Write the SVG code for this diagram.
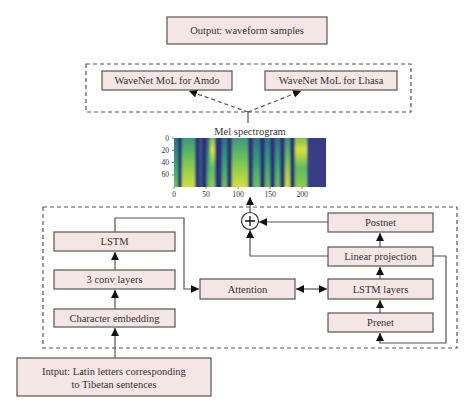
<svg xmlns="http://www.w3.org/2000/svg" width="474" height="413" viewBox="0 0 474 413">
<defs>
<style>
.box{fill:#f5e6e6;stroke:#555;stroke-width:1.2}
.t{font-family:"Liberation Serif","Times New Roman",serif;font-size:10.5px;fill:#333;text-anchor:middle}
.tk{font-family:"Liberation Serif","Times New Roman",serif;font-size:7.5px;fill:#333}
.ln{fill:none;stroke:#555;stroke-width:1.2}
.dash{fill:none;stroke:#555;stroke-width:1.2;stroke-dasharray:4 3}
</style>
<marker id="ah" markerUnits="userSpaceOnUse" viewBox="0 0 8 8" refX="8" refY="4" markerWidth="8" markerHeight="8" orient="auto-start-reverse">
<path d="M0,0 L8,4 L0,8 z" fill="#111"/>
</marker>
<linearGradient id="gB" x1="0" y1="0" x2="0" y2="1">
<stop offset="0" stop-color="#3a8a8c"/><stop offset="0.35" stop-color="#5fba62"/><stop offset="0.7" stop-color="#a6d447"/><stop offset="1" stop-color="#dde33a"/>
</linearGradient>
<linearGradient id="gM" x1="0" y1="0" x2="0" y2="1">
<stop offset="0" stop-color="#2f6a8e"/><stop offset="0.5" stop-color="#36a07e"/><stop offset="1" stop-color="#78c556"/>
</linearGradient>
<linearGradient id="gY" x1="0" y1="0" x2="0" y2="1">
<stop offset="0" stop-color="#5fb561"/><stop offset="0.28" stop-color="#d8e23c"/><stop offset="0.6" stop-color="#5fbb62"/><stop offset="1" stop-color="#9ad04d"/>
</linearGradient>
<clipPath id="specClip"><rect x="174" y="138" width="152" height="49"/></clipPath>
<filter id="soft" x="-5%" y="-5%" width="110%" height="110%"><feGaussianBlur stdDeviation="0.9"/></filter>
</defs>
<rect width="474" height="413" fill="#fff"/>

<g id="output"><rect class="box" x="167" y="17" width="160" height="27"/><text class="t" x="247" y="34">Output: waveform samples</text></g>

<g id="vocoders"><rect class="dash" x="86" y="64" width="325" height="48"/></g>
<g id="wavenet-amdo"><rect class="box" x="102" y="71" width="130" height="19"/><text class="t" x="167" y="84">WaveNet MoL for Amdo</text></g>
<g id="wavenet-lhasa"><rect class="box" x="265" y="71" width="132" height="19"/><text class="t" x="331" y="84">WaveNet MoL for Lhasa</text></g>

<g id="mel">
<text class="t" x="250" y="134.5">Mel spectrogram</text>
<g clip-path="url(#specClip)">
<g filter="url(#soft)">
<rect x="170" y="134" width="160" height="57" fill="#2f3275"/>
<rect x="172" y="134" width="6" height="57" fill="url(#gM)"/>
<rect x="182" y="134" width="13" height="57" fill="url(#gB)"/>
<rect x="199" y="134" width="3" height="57" fill="#3b528b"/>
<rect x="207" y="134" width="3" height="57" fill="url(#gM)"/>
<rect x="210" y="134" width="5" height="57" fill="url(#gY)"/>
<rect x="222" y="134" width="5" height="57" fill="url(#gM)"/>
<rect x="232" y="134" width="16" height="57" fill="url(#gB)"/>
<rect x="253" y="134" width="7" height="57" fill="url(#gM)"/>
<rect x="265" y="134" width="5" height="57" fill="url(#gM)"/>
<rect x="275" y="134" width="5" height="57" fill="url(#gM)"/>
<rect x="285" y="134" width="5" height="57" fill="url(#gB)"/>
<rect x="295" y="134" width="12" height="57" fill="url(#gY)"/>
<rect x="307" y="134" width="23" height="57" fill="#383c84"/>
</g>
</g>
<g stroke="#555" stroke-width="0.8">
<path d="M174,138 h-2 M174,150.3 h-2 M174,162.6 h-2 M174,174.9 h-2"/>
<path d="M174,187 v2 M206,187 v2 M238,187 v2 M270,187 v2 M302,187 v2"/>
</g>
<text class="tk" x="169" y="140.5" text-anchor="end">0</text>
<text class="tk" x="169" y="152.8" text-anchor="end">20</text>
<text class="tk" x="169" y="165.1" text-anchor="end">40</text>
<text class="tk" x="169" y="177.4" text-anchor="end">60</text>
<text class="tk" x="174" y="197" text-anchor="middle">0</text>
<text class="tk" x="206" y="197" text-anchor="middle">50</text>
<text class="tk" x="238" y="197" text-anchor="middle">100</text>
<text class="tk" x="270" y="197" text-anchor="middle">150</text>
<text class="tk" x="302" y="197" text-anchor="middle">200</text>
</g>

<g id="tacotron"><rect class="dash" x="43" y="207" width="414" height="141"/></g>
<g id="lstm"><rect class="box" x="54" y="232" width="121" height="19"/><text class="t" x="114.5" y="245">LSTM</text></g>
<g id="conv"><rect class="box" x="54" y="270" width="121" height="19"/><text class="t" x="114.5" y="283">3 conv layers</text></g>
<g id="char-emb"><rect class="box" x="54" y="309" width="121" height="18"/><text class="t" x="114.5" y="321.5">Character embedding</text></g>
<g id="input"><rect class="box" x="17" y="358" width="194" height="38"/><text class="t" x="114" y="374.5">Intput: Latin letters corresponding</text><text class="t" x="114" y="388">to Tibetan sentences</text></g>
<g id="attention"><rect class="box" x="200" y="279" width="95" height="20"/><text class="t" x="247.5" y="292.5">Attention</text></g>
<g id="lstm-layers"><rect class="box" x="328" y="279" width="105" height="20"/><text class="t" x="380.5" y="292.5">LSTM layers</text></g>
<g id="postnet"><rect class="box" x="328" y="213" width="105" height="19"/><text class="t" x="380.5" y="226">Postnet</text></g>
<g id="linear"><rect class="box" x="328" y="247" width="105" height="19"/><text class="t" x="380.5" y="260">Linear projection</text></g>
<g id="prenet"><rect class="box" x="328" y="313" width="105" height="19"/><text class="t" x="380.5" y="326">Prenet</text></g>
<g id="plus"><circle cx="250" cy="221" r="8.5" fill="#fff" stroke="#333" stroke-width="1.2"/><path d="M245,221 H255 M250,216 V226" stroke="#111" stroke-width="1.3"/></g>

<g id="connectors">
<path class="ln" d="M248,123 V112"/>
<path class="dash" d="M248,112 L189,91" marker-end="url(#ah)"/>
<path class="dash" d="M248,112 L301,91" marker-end="url(#ah)"/>
<path class="ln" d="M115,358 V328" marker-end="url(#ah)"/>
<path class="ln" d="M115,309 V290" marker-end="url(#ah)"/>
<path class="ln" d="M115,270 V252" marker-end="url(#ah)"/>
<path class="ln" d="M115,232 V218 H184 V289 H199" marker-end="url(#ah)"/>
<path class="ln" d="M296,289 H327" marker-start="url(#ah)" marker-end="url(#ah)"/>
<path class="ln" d="M380,313 V300" marker-end="url(#ah)"/>
<path class="ln" d="M380,279 V267" marker-end="url(#ah)"/>
<path class="ln" d="M380,247 V233" marker-end="url(#ah)"/>
<path class="ln" d="M328,222 H259" marker-end="url(#ah)"/>
<path class="ln" d="M328,256 H250 V230" marker-end="url(#ah)"/>
<path class="ln" d="M433,256 H446 V343 H380 V333" marker-end="url(#ah)"/>
<path class="ln" d="M250,212 V197" marker-end="url(#ah)"/>
</g>
</svg>
